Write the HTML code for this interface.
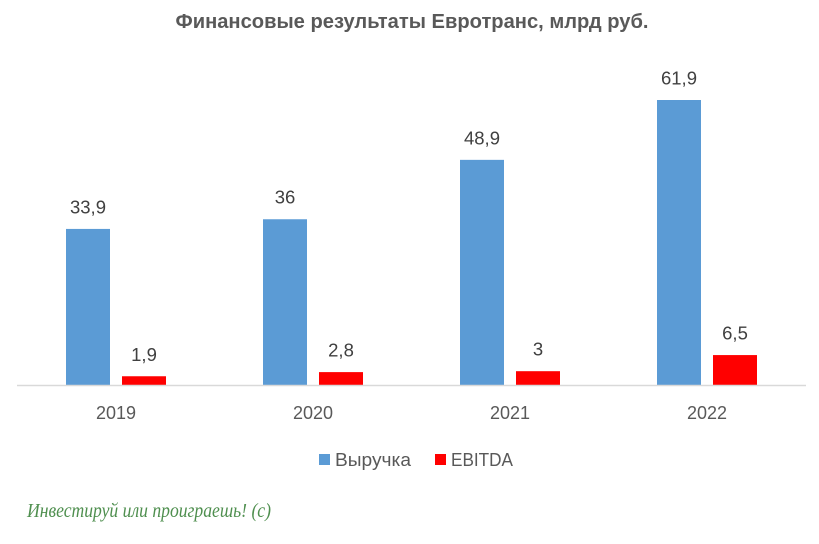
<!DOCTYPE html>
<html lang="ru">
<head>
<meta charset="utf-8">
<title>Финансовые результаты Евротранс</title>
<style>
html,body{margin:0;padding:0;background:#fff;}
svg{display:block;}
text{font-family:"Liberation Sans","DejaVu Sans",sans-serif;}
</style>
</head>
<body>
<svg id="chart" width="819" height="544" viewBox="0 0 819 544" xmlns="http://www.w3.org/2000/svg">
<rect width="819" height="544" fill="#ffffff"/>
<text x="412" y="28" text-anchor="middle" font-size="20" font-weight="700" fill="#595959" textLength="473" lengthAdjust="spacingAndGlyphs">Финансовые результаты Евротранс, млрд руб.</text>
<g id="bars"></g>
<g id="labels"></g>
<g id="ticks"></g>
<line x1="17" y1="385.5" x2="806" y2="385.5" stroke="#d9d9d9" stroke-width="1.5"/>
<g>
<g>
<rect x="319" y="454" width="11" height="11" fill="#5b9bd5"/>
<text x="335" y="466" font-size="18" fill="#595959" textLength="76" lengthAdjust="spacingAndGlyphs">Выручка</text>
</g>
<g>
<rect x="435" y="454" width="11" height="11" fill="#ff0000"/>
<text x="451" y="466" font-size="18" fill="#595959" textLength="62" lengthAdjust="spacingAndGlyphs">EBITDA</text>
</g>
</g>
<text x="27" y="517" font-size="20" font-style="italic" fill="#4f8f4f" style="font-family:'Liberation Serif','DejaVu Serif',serif" textLength="244" lengthAdjust="spacingAndGlyphs">Инвестируй или проиграешь! (с)</text>
</svg>
<script>
var categories = ["2019", "2020", "2021", "2022"];
var revenue = [33.9, 36, 48.9, 61.9];
var ebitda = [1.9, 2.8, 3, 6.5];
var revenueLabels = ["33,9", "36", "48,9", "61,9"];
var ebitdaLabels = ["1,9", "2,8", "3", "6,5"];

var NS = "http://www.w3.org/2000/svg";
var baseY = 385;
var pxPerUnit = 285 / 61.9;
var plotLeft = 17.5;
var bandWidth = 197;
var barWidth = 44;
var labelGap = 15.5;

function yScale(v) { return baseY - v * pxPerUnit; }
function bandCenter(i) { return plotLeft + bandWidth * (i + 0.5); }

function makeEl(tag, attrs) {
  var el = document.createElementNS(NS, tag);
  for (var k in attrs) { el.setAttribute(k, attrs[k]); }
  return el;
}

var barsLayer = document.getElementById("bars");
var labelsLayer = document.getElementById("labels");
var ticksLayer = document.getElementById("ticks");

categories.forEach(function (cat, i) {
  var c = bandCenter(i);

  var revX = c - 50;
  var revTop = yScale(revenue[i]);
  var revBar = makeEl("rect", { x: revX, y: revTop, width: barWidth, height: baseY - revTop, fill: "#5b9bd5" });
  
  
  barsLayer.appendChild(revBar);

  var ebX = c + 6;
  var ebTop = yScale(ebitda[i]);
  var ebBar = makeEl("rect", { x: ebX, y: ebTop, width: barWidth, height: baseY - ebTop, fill: "#ff0000" });
  
  
  barsLayer.appendChild(ebBar);

  var revLabel = makeEl("text", { x: revX + barWidth / 2, y: revTop - labelGap, "text-anchor": "middle", "font-size": "18.5", fill: "#404040" });
  revLabel.textContent = revenueLabels[i];
  
  
  labelsLayer.appendChild(revLabel);

  var ebLabel = makeEl("text", { x: ebX + barWidth / 2, y: ebTop - labelGap, "text-anchor": "middle", "font-size": "18.5", fill: "#404040" });
  ebLabel.textContent = ebitdaLabels[i];
  
  
  labelsLayer.appendChild(ebLabel);

  var tick = makeEl("text", { x: c, y: 419, "text-anchor": "middle", "font-size": "18", fill: "#595959" });
  tick.textContent = cat;
  
  
  ticksLayer.appendChild(tick);
});
</script>
</body>
</html>
